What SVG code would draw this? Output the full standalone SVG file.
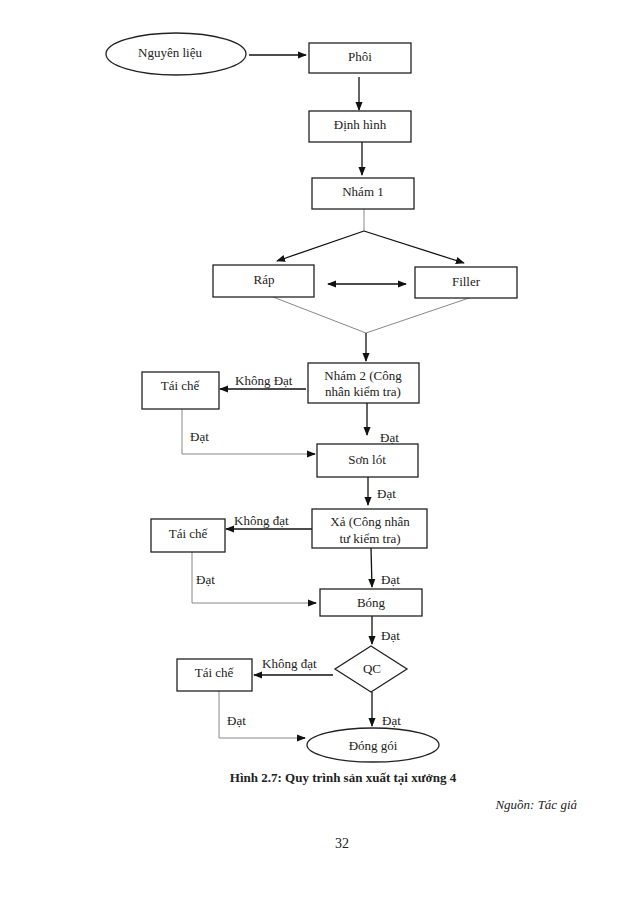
<svg xmlns="http://www.w3.org/2000/svg" width="638" height="902" viewBox="0 0 638 902">
<style>
text{font-family:"Liberation Serif","Times New Roman",serif;font-size:13px;fill:#222}
.c{text-anchor:middle}
.n{fill:#fff;stroke:#222;stroke-width:1.3}
.k{stroke:#111;stroke-width:1.3;fill:none}
.g{stroke:#888;stroke-width:1;fill:none}
</style>
<defs>
<marker id="a" viewBox="0 0 10 10" refX="9" refY="5" markerWidth="7" markerHeight="7" orient="auto-start-reverse"><path d="M0,1 L10,5 L0,9 z" fill="#111"/></marker>
</defs>
<rect width="638" height="902" fill="#fff"/>
<g id="connectors">
<line class="k" x1="249" y1="55" x2="306" y2="55" marker-end="url(#a)"/>
<line class="k" x1="359" y1="77" x2="359" y2="110" marker-end="url(#a)"/>
<line class="k" x1="362" y1="142" x2="362" y2="175" marker-end="url(#a)"/>
<line class="g" x1="364" y1="209" x2="364" y2="231"/>
<line class="k" x1="364" y1="231" x2="277" y2="261" marker-end="url(#a)"/>
<line class="k" x1="364" y1="231" x2="464" y2="263" marker-end="url(#a)"/>
<line class="k" x1="328" y1="284" x2="406" y2="284" marker-start="url(#a)" marker-end="url(#a)"/>
<polyline class="g" points="273,297 366,333 472,297"/>
<line class="k" x1="366" y1="333" x2="366" y2="361" marker-end="url(#a)"/>
<line class="k" x1="306" y1="389" x2="220" y2="389" marker-end="url(#a)"/>
<polyline class="g" points="182,409 182,454 313,454"/>
<line class="k" x1="313" y1="454" x2="315" y2="454" marker-end="url(#a)"/>
<line class="k" x1="367" y1="403" x2="367" y2="435" marker-end="url(#a)"/>
<line class="k" x1="368" y1="477" x2="368" y2="505" marker-end="url(#a)"/>
<line class="k" x1="312" y1="529" x2="226" y2="529" marker-end="url(#a)"/>
<polyline class="g" points="192,552 192,603 314,603"/>
<line class="k" x1="314" y1="603" x2="316" y2="603" marker-end="url(#a)"/>
<line class="k" x1="371" y1="548" x2="372" y2="587" marker-end="url(#a)"/>
<line class="k" x1="372" y1="616" x2="372" y2="644" marker-end="url(#a)"/>
<line class="k" x1="333" y1="675" x2="254" y2="675" marker-end="url(#a)"/>
<polyline class="g" points="219,691 219,738 303,738"/>
<line class="k" x1="303" y1="738" x2="305" y2="738" marker-end="url(#a)"/>
<line class="k" x1="372" y1="692" x2="372" y2="726" marker-end="url(#a)"/>
<text x="235" y="385">Không Đạt</text>
<text x="190" y="441">Đạt</text>
<text x="380" y="442">Đạt</text>
<text x="377" y="498">Đạt</text>
<text x="234" y="525">Không đạt</text>
<text x="196" y="584">Đạt</text>
<text x="381" y="584">Đạt</text>
<text x="381" y="640">Đạt</text>
<text x="262" y="668">Không đạt</text>
<text x="227" y="725">Đạt</text>
<text x="382" y="725">Đạt</text>
</g>
<g id="nguyenlieu"><ellipse class="n" cx="176" cy="54" rx="70" ry="21"/><text class="c" x="170" y="57">Nguyên liệu</text></g>
<g id="phoi"><rect class="n" x="309" y="43" width="102" height="30"/><text class="c" x="360" y="61">Phôi</text></g>
<g id="dinhhinh"><rect class="n" x="309" y="111" width="102" height="31"/><text class="c" x="360" y="129">Định hình</text></g>
<g id="nham1"><rect class="n" x="312" y="178" width="102" height="31"/><text class="c" x="363" y="196">Nhám 1</text></g>
<g id="rap"><rect class="n" x="213" y="265" width="101" height="32"/><text class="c" x="264" y="284">Ráp</text></g>
<g id="filler"><rect class="n" x="415" y="267" width="102" height="31"/><text class="c" x="466" y="286">Filler</text></g>
<g id="nham2"><rect class="n" x="308" y="363" width="111" height="40"/><text class="c" x="363" y="380">Nhám 2 (Công</text><text class="c" x="363" y="396">nhân kiểm tra)</text></g>
<g id="taiche1"><rect class="n" x="142" y="372" width="77" height="37"/><text class="c" x="180" y="390">Tái chế</text></g>
<g id="sonlot"><rect class="n" x="317" y="444" width="101" height="33"/><text class="c" x="367" y="464">Sơn lót</text></g>
<g id="xa"><rect class="n" x="312" y="509" width="115" height="39"/><text class="c" x="370" y="526">Xả (Công nhân</text><text class="c" x="370" y="543">tư kiểm tra)</text></g>
<g id="taiche2"><rect class="n" x="151" y="519" width="74" height="33"/><text class="c" x="188" y="538">Tái chế</text></g>
<g id="bong"><rect class="n" x="320" y="589" width="102" height="27"/><text class="c" x="371" y="607">Bóng</text></g>
<g id="qc"><polygon class="n" points="371,646 407,669 371,692 335,669"/><text class="c" x="372" y="673">QC</text></g>
<g id="taiche3"><rect class="n" x="177" y="659" width="75" height="32"/><text class="c" x="214" y="677">Tái chế</text></g>
<g id="donggoi"><ellipse class="n" cx="373" cy="745" rx="66" ry="17"/><text class="c" x="373" y="750">Đóng gói</text></g>
<text class="c" x="343" y="782" style="font-weight:bold">Hình 2.7: Quy trình sản xuất tại xưởng 4</text>
<text x="577" y="809" style="font-style:italic;text-anchor:end">Nguồn: Tác giả</text>
<text class="c" x="342" y="848" style="font-size:14px">32</text>
</svg>
